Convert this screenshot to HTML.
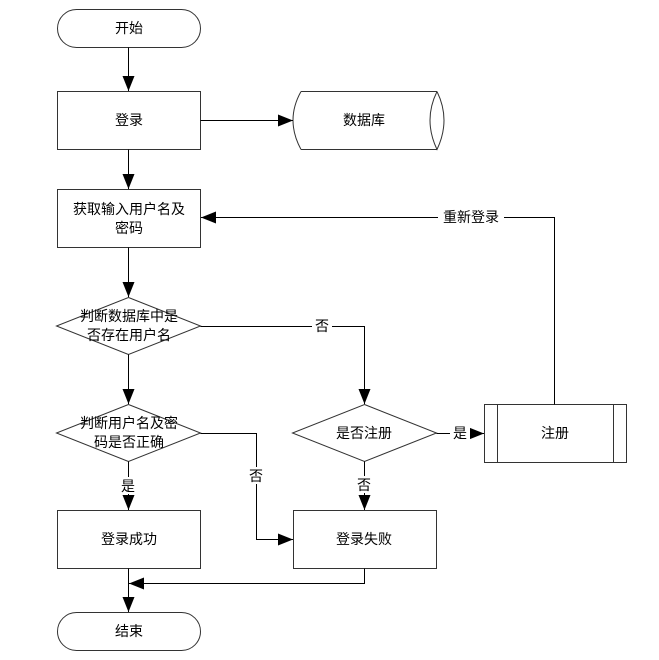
<!DOCTYPE html>
<html><head><meta charset="utf-8"><style>
body{margin:0;background:#fff}
text{font-family:"Liberation Sans","Noto Sans CJK SC",sans-serif;font-size:14px;fill:#000}
</style></head><body>
<svg width="659" height="655" viewBox="0 0 659 655" xmlns="http://www.w3.org/2000/svg">
<defs><marker id="a" markerWidth="15" markerHeight="12" refX="15" refY="6" orient="auto" markerUnits="userSpaceOnUse"><path d="M0,0L15,6L0,12z" fill="#000"/></marker></defs>
<g fill="none" stroke="#333" stroke-width="1">
<rect x="57.5" y="9.5" width="143" height="38" rx="19"/>
<rect x="57.5" y="91.5" width="143" height="58"/>
<path d="M301,91.5H437 M301,149.5H437 M301,91.5 Q285,120 301,149.5 M437,91.5 Q423,120 437,149.5 Q451,120 437,91.5"/>
<rect x="57.5" y="189.5" width="143" height="58"/>
<path d="M128.5,297.5L200.5,326L128.5,354.5L56.5,326Z"/>
<path d="M128.5,404.5L200.5,433L128.5,461.5L56.5,433Z"/>
<path d="M364.5,404.5L436.5,433L364.5,461.5L292.5,433Z"/>
<rect x="484.5" y="404.5" width="142" height="58"/>
<path d="M497.5,404.5V462.5 M613.5,404.5V462.5"/>
<rect x="57.5" y="510.5" width="143" height="58"/>
<rect x="293.5" y="510.5" width="143" height="58"/>
<rect x="57.5" y="612.5" width="143" height="38" rx="19"/>
</g>
<g fill="none" stroke="#000" stroke-width="1">
<path d="M128.5,47.5V91" marker-end="url(#a)"/>
<path d="M200.5,120.5H293" marker-end="url(#a)"/>
<path d="M128.5,149.5V189" marker-end="url(#a)"/>
<path d="M128.5,247.5V297" marker-end="url(#a)"/>
<path d="M128.5,354.5V404" marker-end="url(#a)"/>
<path d="M200.5,326.5H364.5V404" marker-end="url(#a)"/>
<path d="M554.5,404.5V217.5H201" marker-end="url(#a)"/>
<path d="M200.5,433.5H256.5V539.5H293" marker-end="url(#a)"/>
<path d="M436.5,433.5H484" marker-end="url(#a)"/>
<path d="M364.5,461.5V510" marker-end="url(#a)"/>
<path d="M128.5,461.5V510" marker-end="url(#a)"/>
<path d="M364.5,568.5V583.5H129" marker-end="url(#a)"/>
<path d="M128.5,568.5V612" marker-end="url(#a)"/>
</g>
<g fill="#fff">
<rect x="438" y="209" width="66" height="17"/>
<rect x="312" y="318" width="20" height="17"/>
<rect x="246" y="467" width="20" height="17"/>
<rect x="354" y="476" width="20" height="17"/>
<rect x="118" y="477" width="20" height="17"/>
<rect x="450" y="425" width="20" height="17"/>
</g>
<g text-anchor="middle">
<text x="129" y="33">开始</text>
<text x="129" y="125">登录</text>
<text x="364" y="125">数据库</text>
<text x="129" y="214">获取输入用户名及</text>
<text x="129" y="233">密码</text>
<text x="129" y="321">判断数据库中是</text>
<text x="129" y="340">否存在用户名</text>
<text x="129" y="428">判断用户名及密</text>
<text x="129" y="447">码是否正确</text>
<text x="364" y="438">是否注册</text>
<text x="555" y="438">注册</text>
<text x="129" y="544">登录成功</text>
<text x="364" y="544">登录失败</text>
<text x="129" y="636">结束</text>
<text x="471" y="222">重新登录</text>
<text x="322" y="331">否</text>
<text x="256" y="481">否</text>
<text x="364" y="490">否</text>
<text x="128" y="491">是</text>
<text x="460" y="438">是</text>
</g>
</svg>
</body></html>
